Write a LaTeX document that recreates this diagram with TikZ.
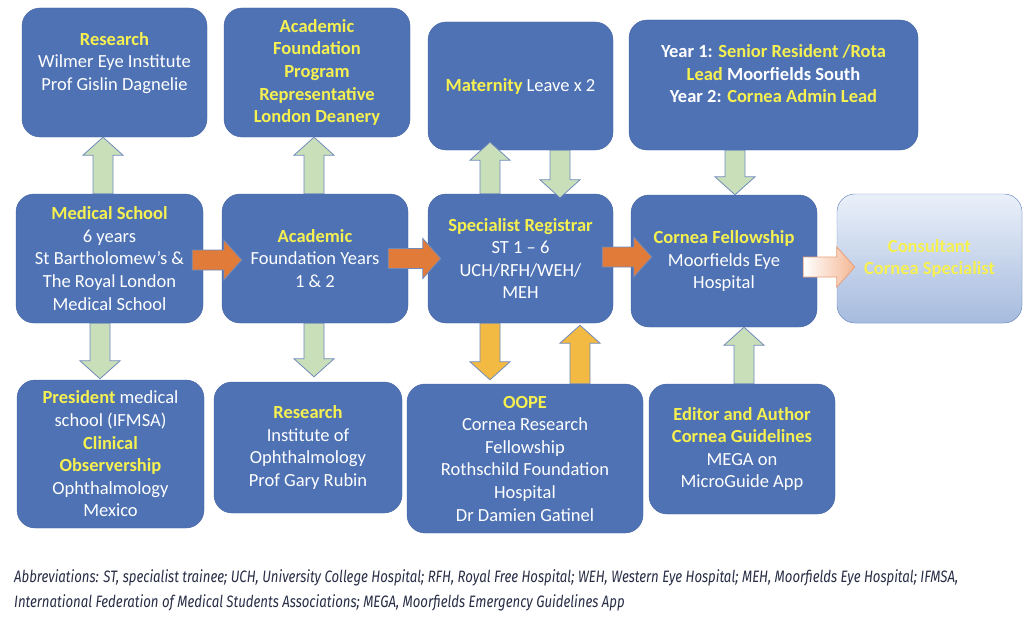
\documentclass[tikz,border=0pt]{standalone}
\usepackage{fontspec}
\setmainfont{Carlito}
\newfontfamily\capfont[FakeStretch=0.8]{Fira Sans}
\usepackage{tikz}
\usetikzlibrary{calc}

\definecolor{boxblue}{RGB}{78,114,180}
\definecolor{boxedge}{RGB}{66,98,160}
\definecolor{ylw}{RGB}{246,240,80}
\definecolor{greenfill}{RGB}{201,223,185}
\definecolor{orangefill}{RGB}{224,123,57}
\definecolor{goldfill}{RGB}{242,186,66}
\definecolor{arredge}{RGB}{112,138,188}
\definecolor{capcol}{RGB}{40,45,70}

\newcommand{\yl}[1]{\textbf{\color{ylw}#1}}
% block arrow from tail #2 to tip #3
\newcommand{\fat}[3]{%
  \coordinate (fh) at ($(#3)!18pt!(#2)$);
  \draw[#1] ($(#2)!10pt!90:(#3)$) -- ($(fh)!10pt!90:(#3)$) -- ($(fh)!20pt!90:(#3)$)
    -- (#3) -- ($(fh)!20pt!-90:(#3)$) -- ($(fh)!10pt!-90:(#3)$) -- ($(#2)!10pt!-90:(#3)$) -- cycle;}

\tikzset{
  box/.style={draw=boxedge, fill=boxblue, rounded corners=18pt, text=white,
    align=center, inner sep=0pt, font=\fontsize{18.5}{22.6}\selectfont},
  greenarr/.style={draw=arredge, fill=greenfill, line width=0.8pt},
  orangearr/.style={draw=arredge, fill=orangefill, line width=0.8pt},
  goldarr/.style={draw=arredge, fill=goldfill, line width=0.8pt},
  captext/.style={anchor=base west, inner sep=0pt, text=capcol,
    font=\capfont\itshape\fontsize{16.5}{18}\selectfont},
}

\begin{document}
\begin{tikzpicture}[x=1pt,y=-1pt]
  \useasboundingbox (0,0) rectangle (1028,618);

  % top row
  \node[box, minimum width=185, minimum height=129] (res1) at (114.5,72.5)
    {\yl{Research}\\ Wilmer Eye Institute\\ Prof Gislin Dagnelie\\ \mbox{}};
  \node[box, minimum width=186, minimum height=129] (afp) at (317,72.5)
    {\yl{Academic}\\ \yl{Foundation}\\ \yl{Program}\\ \yl{Representative}\\ \yl{London Deanery}};
  \node[box, minimum width=185, minimum height=128] (mat) at (520.5,86)
    {\yl{Maternity} Leave x 2};
  \node[box, minimum width=289, minimum height=130] (year) at (773.5,85)
    {\textbf{Year 1:} \yl{Senior Resident /Rota}\\ \yl{Lead} \textbf{Moorfields South}\\
     \textbf{Year 2:} \yl{Cornea Admin Lead}\\ \mbox{}};

  % middle row
  \node[box, minimum width=187, minimum height=129] (med) at (109.5,258.5)
    {\yl{Medical School}\\ 6 years\\ St Bartholomew’s \&\\ The Royal London\\ Medical School};
  \node[box, minimum width=186, minimum height=129] (afy) at (315,258.5)
    {\yl{Academic}\\ Foundation Years\\ 1 \& 2};
  \node[box, minimum width=185, minimum height=129] (spr) at (520.5,258.5)
    {\yl{Specialist Registrar}\\ ST 1 – 6\\ UCH/RFH/WEH/\\ MEH};
  \node[box, minimum width=186, minimum height=132] (cfel) at (724,261)
    {\yl{Cornea Fellowship}\\ Moorfields Eye\\ Hospital};
  \node[box, draw={rgb,255:red,110;green,140;blue,196},
    top color={rgb,255:red,234;green,240;blue,249},
    bottom color={rgb,255:red,166;green,187;blue,222},
    minimum width=185, minimum height=129] (cons) at (929.5,258.5)
    {\yl{Consultant}\\ \yl{Cornea Specialist}};

  % bottom row
  \node[box, minimum width=187, minimum height=148] (pres) at (110.5,454)
    {\yl{President} medical\\ school (IFMSA)\\ \yl{Clinical}\\ \yl{Observership}\\ Ophthalmology\\ Mexico};
  \node[box, minimum width=188, minimum height=131] (res2) at (308,447.5)
    {\yl{Research}\\ Institute of\\ Ophthalmology\\ Prof Gary Rubin};
  \node[box, minimum width=236, minimum height=149] (oope) at (525,458.5)
    {\yl{OOPE}\\ Cornea Research\\ Fellowship\\ Rothschild Foundation\\ Hospital\\ Dr Damien Gatinel};
  \node[box, minimum width=186, minimum height=130] (edit) at (742,449)
    {\yl{Editor and Author}\\ \yl{Cornea Guidelines}\\ MEGA on\\ MicroGuide App};

  % arrow ends
  \coordinate (t1) at ([xshift=-11pt,yshift=-1.5pt]med.east);
  \coordinate (h1) at ($(t1 -| afy.west)+(20,0)$);
  \coordinate (t2) at ([xshift=-20pt]afy.east);
  \coordinate (h2) at ($(t2 -| spr.west)+(13,0)$);
  \coordinate (t3) at ([xshift=-11pt,yshift=1.5pt]spr.east);
  \coordinate (h3) at ($(t3 -| cfel.west)+(21,0)$);
  \coordinate (t4) at ([xshift=-14pt,yshift=-6pt]cfel.east);
  \coordinate (h4) at ($(t4 -| cons.west)+(18,0)$);

  \coordinate (u1) at ([xshift=-6.5pt]med.north);
  \coordinate (v1) at (u1 |- res1.south);
  \coordinate (u2) at ([xshift=-1pt]afy.north);
  \coordinate (v2) at (u2 |- afp.south);
  \coordinate (u3) at ([xshift=-30.5pt]spr.north);
  \coordinate (v3) at ($(u3 |- mat.south)+(0,-8)$);
  \coordinate (d3) at ([xshift=39.5pt]mat.south);
  \coordinate (e3) at ($(d3 |- spr.north)+(0,4)$);
  \coordinate (d4) at ([xshift=-38.5pt]year.south);
  \coordinate (e4) at (d4 |- cfel.north);
  \coordinate (d1) at ([xshift=-9.5pt]med.south);
  \coordinate (e1) at ($(d1 |- pres.north)+(0,-1)$);
  \coordinate (d2) at ([xshift=-1pt]afy.south);
  \coordinate (e2) at ($(d2 |- res2.north)+(0,-5)$);
  \coordinate (d5) at ([xshift=-30.5pt]spr.south);
  \coordinate (e5) at ($(d5 |- oope.north)+(0,-4)$);
  \coordinate (u5) at ([xshift=55pt]oope.north);
  \coordinate (v5) at ($(u5 |- spr.south)+(0,2)$);
  \coordinate (u6) at ([xshift=2pt]edit.north);
  \coordinate (v6) at (u6 |- cfel.south);

  % block arrows
  \fat{orangearr}{t1}{h1}
  \fat{orangearr}{t2}{h2}
  \fat{orangearr}{t3}{h3}
  \fat{draw={rgb,255:red,232;green,160;blue,120}, line width=0.8pt,
    left color=white, right color={rgb,255:red,244;green,183;blue,148}}{t4}{h4}
  \fat{greenarr}{u1}{v1}
  \fat{greenarr}{u2}{v2}
  \fat{greenarr}{u3}{v3}
  \fat{greenarr}{d3}{e3}
  \fat{greenarr}{d4}{e4}
  \fat{greenarr}{d1}{e1}
  \fat{greenarr}{d2}{e2}
  \fat{goldarr}{d5}{e5}
  \fat{goldarr}{u5}{v5}
  \fat{greenarr}{u6}{v6}

  % caption
  \node[captext] (cap1) at (14,582)
    {Abbreviations: ST, specialist trainee; UCH, University College Hospital; RFH, Royal Free Hospital; WEH, Western Eye Hospital; MEH, Moorfields Eye Hospital; IFMSA,};
  \node[captext] (cap2) at (14,607)
    {International Federation of Medical Students Associations; MEGA, Moorfields Emergency Guidelines App};
\end{tikzpicture}
\end{document}
